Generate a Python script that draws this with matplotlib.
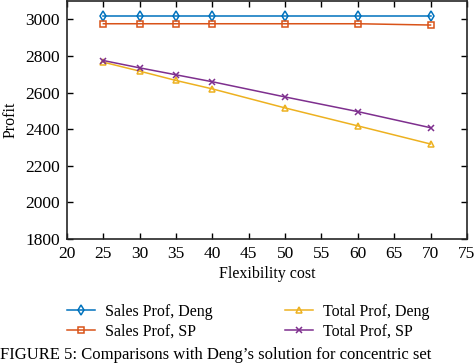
import matplotlib
matplotlib.use("Agg")
import matplotlib.pyplot as plt

plt.rcParams['font.family'] = ['Liberation Serif', 'DejaVu Serif']

flex_cost = [25, 30, 35, 40, 50, 60, 70]
sales_deng = [3016, 3016, 3016, 3016, 3016, 3016, 3016]
sales_sp = [2976, 2976, 2976, 2976, 2976, 2976, 2969]
total_deng = [2766, 2717, 2666, 2620, 2516, 2418, 2319]
total_sp = [2775, 2735, 2697, 2659, 2576, 2496, 2408]

x_ticks = list(range(20, 80, 5))
y_ticks = list(range(1800, 3100, 200))

fig = plt.figure(figsize=(4.74, 3.63), dpi=100)
ax = fig.add_axes([0.1414, 0.3416, 0.8436, 0.6555])

ax.plot(flex_cost, sales_deng, color='#0072BD', marker='d', mfc='none', ms=5, lw=1.1, mew=1.1, label='Sales Prof, Deng')
ax.plot(flex_cost, sales_sp, color='#D95319', marker='s', mfc='none', ms=4.5, lw=1.1, mew=1.1, label='Sales Prof, SP')
ax.plot(flex_cost, total_deng, color='#EDB120', marker='^', mfc='none', ms=5, lw=1.1, mew=1.1, label='Total Prof, Deng')
ax.plot(flex_cost, total_sp, color='#7E2F8E', marker='x', ms=5, lw=1.1, mew=1.1, label='Total Prof, SP')

ax.set_xlim(20, 75)
ax.set_ylim(1800, 3100)
ax.set_xticks(x_ticks)
ax.set_yticks(y_ticks)
ax.tick_params(direction='in', top=True, right=True, labelsize=12.5, length=4, width=1, pad=5)
for s in ax.spines.values():
    s.set_linewidth(1.2)
    s.set_color('#262626')

ax.set_xlabel('Flexibility cost', fontsize=11.5, labelpad=3)
ax.set_ylabel('Profit', fontsize=11.5, labelpad=5)

fig.legend(loc='upper left', bbox_to_anchor=(67/474, 1 - 304/363), ncol=2, frameon=False,
           fontsize=11.5, handlelength=1.75, columnspacing=4.5, labelspacing=0.25,
           handletextpad=0.65, borderaxespad=0, borderpad=0)

fig.text(0.0, 1 - 347/363, 'FIGURE 5: Comparisons with Deng\u2019s solution for concentric set',
         fontsize=12, va='top', ha='left')

fig.savefig('out.png', dpi=100)
